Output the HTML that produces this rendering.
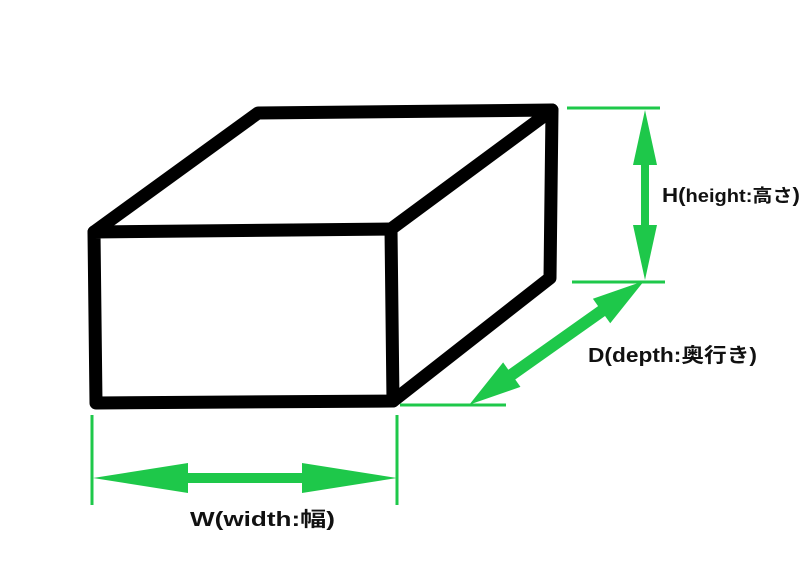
<!DOCTYPE html>
<html><head><meta charset="utf-8"><style>
html,body{margin:0;padding:0;background:#fff;}
svg{display:block}
text{font-family:"Liberation Sans","Noto Sans CJK JP",sans-serif;font-weight:bold;fill:#111;}
</style></head><body>
<svg width="812" height="563" viewBox="0 0 812 563" xmlns="http://www.w3.org/2000/svg">
<rect width="812" height="563" fill="#fff"/>
<g fill="none" stroke="#000" stroke-width="13" stroke-linejoin="round" stroke-linecap="round">
<polygon points="94,232 391,229 393,401 96,403"/>
<polyline points="94,232 258,113 552,110 391,229"/>
<polyline points="552,110 550,278 393,401"/>
</g>
<g stroke="#1ec84a" stroke-width="3" fill="none">
<line x1="567" y1="108" x2="660" y2="108"/>
<line x1="572" y1="282" x2="665" y2="282"/>
<line x1="400" y1="405" x2="506" y2="405"/>
<line x1="92" y1="415" x2="92" y2="505"/>
<line x1="397" y1="415" x2="397" y2="505"/>
</g>
<g fill="#1ec84a">
<polygon points="645,110 657,165 649,165 649,225 657,225 645,280 633,225 641,225 641,165 633,165"/>
<polygon points="93,478 188,463 188,473 302,473 302,463 397,478 302,493 302,483 188,483 188,493"/>
<g transform="translate(644,281) rotate(144.7)">
<polygon points="0,0 52,-15 52,-6 162,-6 162,-15 214,0 162,15 162,6 52,6 52,15"/>
</g>
</g>
<text x="662" y="202" font-size="20" textLength="138" lengthAdjust="spacingAndGlyphs">H(<tspan font-size="18">height:高さ</tspan>)</text>
<text x="588" y="362" font-size="20" textLength="169" lengthAdjust="spacingAndGlyphs">D(depth:奥行き)</text>
<text x="190" y="526" font-size="20" textLength="145" lengthAdjust="spacingAndGlyphs">W(width:幅)</text>
</svg>
</body></html>
